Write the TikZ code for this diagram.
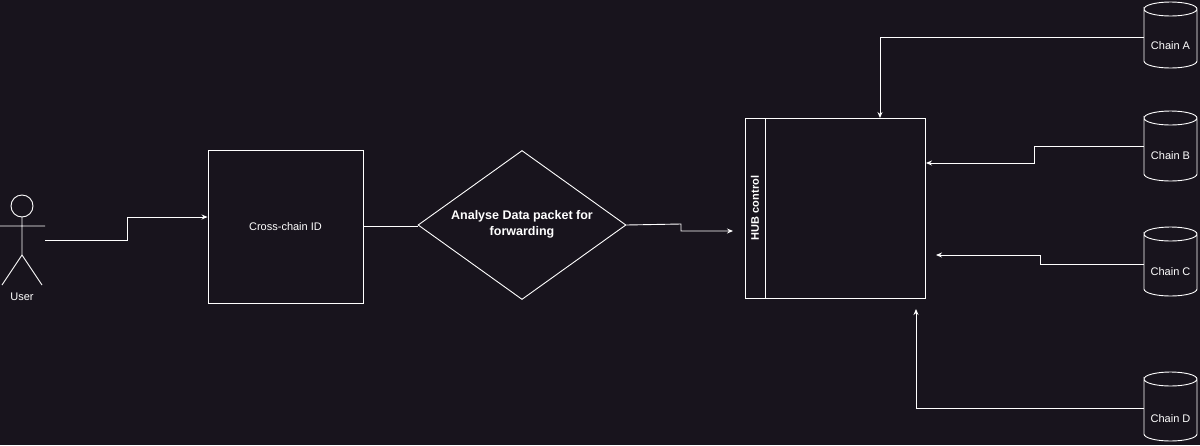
\documentclass[tikz,border=0pt]{standalone}
\usepackage{fontspec}
\setmainfont{Liberation Sans}
\usetikzlibrary{shapes.geometric,arrows.meta}
\definecolor{bg}{HTML}{18141D}
\newcommand{\dbshape}[2]{% top y, bottom y
  \draw[ln] (1144,#1+7) arc[start angle=180,end angle=360,x radius=26.5,y radius=7]
    arc[start angle=0,end angle=180,x radius=26.5,y radius=7] -- (1144,#2-7)
    arc[start angle=180,end angle=360,x radius=26.5,y radius=-7] -- (1197,#1+7);}
\begin{document}
\begin{tikzpicture}[x=1pt,y=-1pt,
  ln/.style={draw=white,line width=0.9pt},
  conn/.style={draw=white,line width=0.9pt,-{Stealth[length=6pt,width=5pt]}},
  lbl/.style={text=white,font=\fontsize{11}{13}\selectfont},
  db/.style={rectangle,minimum width=53pt,minimum height=67pt}]
\fill[bg] (0,0) rectangle (1200,445);
\useasboundingbox (0,0) rectangle (1200,445);
% user
\draw[ln] (22,206) circle (11);
\draw[ln] (22,217) -- (22,255) (0,226) -- (45,226) (2,285) -- (22,255) -- (42,285);
\coordinate (uout) at (45,240);
\node[lbl] (user) at (22,297) {User};
% cross chain
\node[ln,minimum width=155pt,minimum height=153pt,lbl] (cc) at (285.5,226.5) {Cross-chain ID};
\node[diamond,ln,aspect=1.4,minimum width=208pt,minimum height=149pt,inner sep=0pt] (dia) at (522,225) {};
\node[text=white,font=\bfseries\fontsize{12.5}{16}\selectfont,align=center] (dtext) at (522,224) {Analyse Data packet for\\forwarding};
% hub
\node[ln,minimum width=180pt,minimum height=180pt] (hub) at (835,208) {};
\draw[ln] (765,118) -- (765,298);
\node[text=white,font=\bfseries\fontsize{11}{13}\selectfont,rotate=90] (hubtext) at (755,208) {HUB control};
% chains
\dbshape{2}{68}
\dbshape{111}{181}
\dbshape{227}{296}
\dbshape{372}{441}
\node[db] (a) at (1170.5,35) {};
\node[db] (b) at (1170.5,146) {};
\node[db] (c) at (1170.5,261.5) {};
\node[db] (d) at (1170.5,406.5) {};
\node[lbl] (la) at (1170.5,46) {Chain A};
\node[lbl] (lb) at (1170.5,156) {Chain B};
\node[lbl] (lc) at (1170.5,272) {Chain C};
\node[lbl] (ld) at (1170.5,419) {Chain D};
% edges
\draw[conn] (uout) -- (127,240) -- (127,217) -- (cc.west |- 0,217);
\draw[ln] (cc.east |- 0,226) -- (dia.west |- 0,226);
\draw[conn] (dia.east) -- (681,224) -- (681,231) -- (733,231);
\draw[conn] (a.west |- 0,37) -- (880,37) -- (880,118);
\draw[conn] (b.west |- 0,146) -- (1034,146) -- (1034,163) -- (926,163);
\draw[conn] (c.west |- 0,264) -- (1040,264) -- (1040,255) -- (936,255);
\draw[conn] (d.west |- 0,408) -- (916,408) -- (916,309);
\end{tikzpicture}
\end{document}
